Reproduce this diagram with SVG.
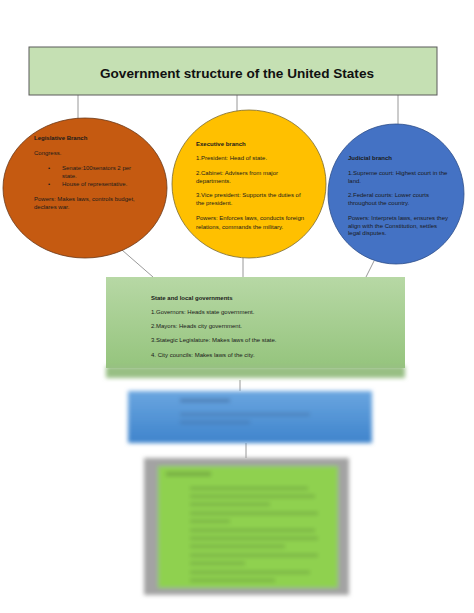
<svg xmlns="http://www.w3.org/2000/svg" width="474" height="613" viewBox="0 0 474 613">
<defs>
<style>
.t{font-family:"Liberation Sans",Arial,sans-serif;font-size:6px;fill:#1a1a1a}
.b{font-weight:bold}
.c{stroke:#7f7f7f;stroke-width:0.8;fill:none}
</style>
<linearGradient id="gg" x1="0" y1="0" x2="0" y2="1">
<stop offset="0" stop-color="#b7d8a5"/>
<stop offset="1" stop-color="#95c47d"/>
</linearGradient>
<linearGradient id="bg" x1="0" y1="0" x2="0" y2="1">
<stop offset="0" stop-color="#6aa6e0"/>
<stop offset="1" stop-color="#3f84cc"/>
</linearGradient>
<filter id="bl" x="-10%" y="-20%" width="120%" height="140%"><feGaussianBlur stdDeviation="2"/></filter>
<filter id="bl2" x="-10%" y="-80%" width="120%" height="260%"><feGaussianBlur stdDeviation="2.2"/></filter>
</defs>
<rect width="474" height="613" fill="#fff"/>
<g id="connectors">
<line class="c" x1="78" y1="95" x2="78" y2="119"/>
<line class="c" x1="237" y1="95" x2="237" y2="111"/>
<line class="c" x1="398" y1="95" x2="398" y2="125"/>
<line class="c" x1="122" y1="250" x2="153" y2="277"/>
<line class="c" x1="243" y1="258" x2="243" y2="277"/>
<line class="c" x1="374" y1="261" x2="366" y2="277"/>
<line class="c" x1="240" y1="380" x2="240" y2="391"/>
<line class="c" x1="246" y1="443" x2="246" y2="458"/>
</g>
<g id="title">
<rect x="29" y="47" width="408" height="48" fill="#c5e0b3" stroke="#5a5a5a" stroke-width="1"/>
<text x="237" y="78" text-anchor="middle" font-family="Liberation Sans,Arial,sans-serif" font-weight="bold" font-size="13.5" textLength="274" lengthAdjust="spacingAndGlyphs" fill="#111">Government structure of the United States</text>
</g>
<g id="legislative">
<ellipse cx="85" cy="188" rx="82" ry="70" fill="#c55a11" stroke="#6b3a1a" stroke-width="0.8"/>
<text class="t b" x="34" y="140">Legislative Branch</text>
<text class="t" x="34" y="155">Congress.</text>
<text class="t" x="48" y="170">•</text>
<text class="t" x="62" y="170">Senate:100senators 2 per</text>
<text class="t" x="62" y="178">state.</text>
<text class="t" x="48" y="186">•</text>
<text class="t" x="62" y="186">House of representative.</text>
<text class="t" x="34" y="201">Powers: Makes laws, controls budget,</text>
<text class="t" x="34" y="209">declares war.</text>
</g>
<g id="executive">
<ellipse cx="249" cy="184" rx="77" ry="74" fill="#ffc000" stroke="#7a6a30" stroke-width="0.8"/>
<text class="t b" x="196" y="146">Executive branch</text>
<text class="t" x="196" y="160">1.President: Head of state.</text>
<text class="t" x="196" y="175">2.Cabinet: Advisers from major</text>
<text class="t" x="196" y="183">departments.</text>
<text class="t" x="196" y="197">3.Vice president: Supports the duties of</text>
<text class="t" x="196" y="205">the president.</text>
<text class="t" x="196" y="220">Powers: Enforces laws, conducts foreign</text>
<text class="t" x="196" y="229">relations, commands the military.</text>
</g>
<g id="judicial">
<ellipse cx="396" cy="194" rx="68" ry="70" fill="#4472c4" stroke="#2f4f8a" stroke-width="0.8"/>
<text class="t b" x="348" y="160">Judicial branch</text>
<text class="t" x="348" y="175">1.Supreme court: Highest court in the</text>
<text class="t" x="348" y="183">land.</text>
<text class="t" x="348" y="197">2.Federal courts: Lower courts</text>
<text class="t" x="348" y="205">throughout the country.</text>
<text class="t" x="348" y="220">Powers: Interprets laws, ensures they</text>
<text class="t" x="348" y="228">align with the Constitution, settles</text>
<text class="t" x="348" y="235">legal disputes.</text>
</g>
<g id="state-local">
<rect x="106" y="277" width="299" height="91" fill="url(#gg)"/>
<rect x="106" y="366" width="299" height="12" fill="#98bf84" filter="url(#bl2)"/>
<text class="t b" x="151" y="300">State and local governments</text>
<text class="t" x="151" y="314">1.Governors: Heads state government.</text>
<text class="t" x="151" y="328">2.Mayors: Heads city government.</text>
<text class="t" x="151" y="342">3.Stategic Legislature: Makes laws of the state.</text>
<text class="t" x="151" y="357">4. City councils: Makes laws of the city.</text>
</g>
<g id="blurred-blue">
<g filter="url(#bl)">
<rect x="128" y="391" width="244" height="52" fill="url(#bg)"/>
<rect x="180" y="399" width="50" height="3" fill="#3a6294" opacity="0.7"/>
<rect x="180" y="413" width="130" height="2.5" fill="#3f6a9c" opacity="0.6"/>
<rect x="180" y="421" width="70" height="2.5" fill="#3f6a9c" opacity="0.6"/>
</g>
</g>
<g id="blurred-gray">
<g filter="url(#bl)">
<rect x="144" y="458" width="205" height="137" fill="#a3a3a3"/>
<rect x="158" y="466" width="180" height="122" fill="#8fd14f"/>
<g fill="#6a9a40" opacity="0.75">
<rect x="166" y="472" width="45" height="4"/>
<rect x="190" y="487" width="118" height="2.5"/>
<rect x="190" y="495" width="125" height="2.5"/>
<rect x="190" y="503" width="80" height="2.5"/>
<rect x="190" y="512" width="128" height="2.5"/>
<rect x="190" y="520" width="40" height="2.5"/>
<rect x="190" y="529" width="125" height="2.5"/>
<rect x="190" y="537" width="128" height="2.5"/>
<rect x="190" y="545" width="95" height="2.5"/>
<rect x="190" y="554" width="128" height="2.5"/>
<rect x="190" y="562" width="55" height="2.5"/>
<rect x="190" y="571" width="120" height="2.5"/>
<rect x="190" y="579" width="85" height="2.5"/>
</g>
</g>
</g>
</svg>
